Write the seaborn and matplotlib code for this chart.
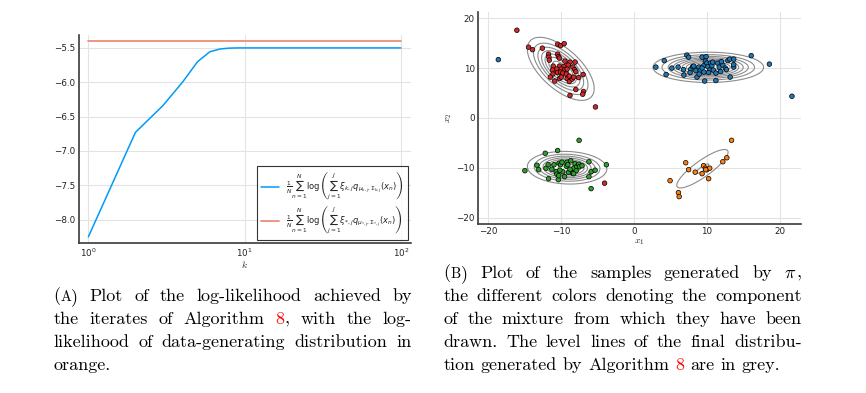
import numpy as np
import pandas as pd
import matplotlib
matplotlib.use("Agg")
import matplotlib.pyplot as plt
import seaborn as sns

# ---------------- data: left panel ----------------
iterations = [1, 2, 3, 4, 5, 6, 7, 8, 9, 10, 12, 15, 20, 30, 50, 100]
loglik_iterates = [-8.25, -6.73, -6.34, -6.00, -5.70, -5.555, -5.515, -5.503,
                   -5.50, -5.50, -5.50, -5.50, -5.50, -5.50, -5.50, -5.50]
iterations_true = [1, 100]
loglik_true = [-5.395, -5.395]
y_ticks_left = [-8.0, -7.5, -7.0, -6.5, -6.0, -5.5]
x_ticks_left = [1, 10, 100]
x_ticklabels_left = ["$10^0$", "$10^1$", "$10^2$"]

# ---------------- data: right panel (samples) ----------------
red_x = [-16.1, -14.5, -13.95, -12.6, -10.5, -10.1, -9.6, -11.75, -11.7, -11.65, -10.5, -10.4,
         -10.25, -9.5, -8.8, -8.1, -11.1, -10.25, -9.65, -9.05, -8.4, -11.2, -10.6, -10.0, -9.5,
         -9.2, -11.15, -10.5, -10.1, -9.8, -9.3, -8.15, -8.0, -11.5, -10.9, -10.25, -10.0, -9.2,
         -8.9, -8.5, -8.3, -7.6, -7.0, -8.9, -8.0, -6.95, -7.05, -8.8, -5.3, -4.05]
red_y = [17.6, 14.2, 13.7, 14.0, 14.8, 14.5, 14.9, 12.8, 12.2, 11.6, 12.8, 12.3,
         12.0, 11.4, 11.2, 11.2, 10.4, 10.4, 10.3, 10.6, 10.2, 9.6, 9.8, 9.8, 9.7,
         9.8, 8.8, 9.1, 9.2, 9.0, 8.8, 9.7, 9.3, 8.2, 7.4, 7.9, 8.2, 7.9,
         7.3, 7.8, 8.2, 8.1, 8.7, 8.4, 5.7, 5.3, 4.75, 4.5, 2.2, -13.1]
blue_x = [-18.65, 21.7, 18.6, 16.1, 3.0, 4.15, 4.4, 5.2, 6.05, 6.8, 6.85, 7.25, 7.5, 7.8, 7.7,
          8.05, 8.65, 8.5, 8.9, 9.1, 9.35, 9.6, 9.9, 9.8, 10.0, 9.35, 9.6, 9.7, 10.15, 10.4,
          10.5, 10.7, 10.9, 11.25, 11.25, 11.5, 11.7, 11.9, 12.2, 12.55, 12.9, 13.15, 13.7,
          13.7, 13.2, 12.7, 10.8, 10.25, 8.95, 8.2, 12.0, 13.7]
blue_y = [11.7, 4.35, 10.8, 12.5, 10.2, 11.5, 8.7, 10.0, 10.2, 9.7, 8.6, 12.6, 12.2, 9.8, 9.1,
          10.3, 8.2, 9.5, 10.2, 9.5, 12.2, 10.5, 12.3, 11.4, 11.0, 10.0, 9.2, 7.4, 10.3, 9.6,
          11.0, 10.5, 9.6, 9.0, 7.5, 11.0, 10.2, 9.3, 10.6, 10.0, 11.5, 11.8, 11.8,
          10.2, 8.2, 9.7, 11.2, 9.1, 8.8, 10.4, 11.3, 10.7]
green_x = [-15.0, -13.35, -13.1, -12.2, -12.1, -11.8, -11.75, -11.0, -10.5, -10.7, -10.6, -10.4,
           -10.35, -10.3, -10.1, -9.9, -9.8, -9.55, -9.3, -9.2, -9.1, -9.0, -8.7, -8.45, -8.3,
           -8.1, -7.85, -7.95, -7.6, -7.5, -7.55, -7.15, -8.3, -6.2, -6.2, -5.9, -5.9, -5.35,
           -3.8, -11.3, -10.2, -8.8]
green_y = [-10.6, -9.5, -10.4, -7.1, -10.1, -9.4, -12.2, -9.4, -6.55, -10.8, -11.3, -12.4,
           -11.6, -9.1, -9.4, -8.9, -10.8, -11.8, -9.7, -8.9, -9.4, -10.9, -8.6, -11.1, -10.1,
           -9.2, -9.8, -10.6, -9.3, -9.8, -4.5, -9.6, -11.2, -8.8, -11.8, -10.8, -14.2, -10.5,
           -9.4, -10.3, -10.5, -10.3]
orange_x = [4.95, 6.1, 6.2, 7.1, 7.5, 8.4, 9.35, 9.55, 9.8, 10.0, 10.4, 10.25, 12.2, 12.75, 13.4, 9.85]
orange_y = [-12.6, -15.0, -15.8, -9.0, -10.4, -10.9, -11.2, -9.6, -10.1, -10.4, -10.1, -12.2,
            -8.8, -8.0, -4.5, -10.4]

# ---------------- data: right panel (final mixture, grey level lines) ----------------
mix_weights = [0.36, 0.31, 0.26, 0.0705]
mix_means = [[10.2, 10.15], [-10.07, 9.85], [-9.2, -10.0], [9.4, -10.2]]
mix_covs = [[[12.5, 0.0], [0.0, 2.0]],
            [[5.1, -4.4], [-4.4, 9.7]],
            [[6.8, -0.3], [-0.3, 2.45]],
            [[8.4, 7.9], [7.9, 10.07]]]
level_step = 0.001138
n_levels = 11
ticks_right = [-20, -10, 0, 10, 20]

# ---------------- figure ----------------
W, H = 866, 393
sns.set_style("white")
plt.rcParams["font.family"] = ["DejaVu Sans"]
plt.rcParams["axes.unicode_minus"] = True
fig = plt.figure(figsize=(W / 100, H / 100), dpi=100)

def px_axes(l, t, r, b):
    return [l / W, 1 - b / H, (r - l) / W, (b - t) / H]

spine_col = "#3a3a3a"
grid_col = "#e3e3e3"
tick_fs = 6.3

# ----- left panel -----
ax1 = fig.add_axes(px_axes(79, 34.8, 410.7, 242.7))
ax1.set_xscale("log")
sns.lineplot(x=iterations, y=loglik_iterates, ax=ax1, color="#009AFA", lw=1.1,
             label=r"$\frac{1}{N}\sum_{n=1}^{N}\log\left(\sum_{j=1}^{J}\xi_{k,j}q_{\mu_{k,j},\Sigma_{k,j}}(x_n)\right)$")
sns.lineplot(x=iterations_true, y=loglik_true, ax=ax1, color="#EC8E76", lw=1.3,
             label=r"$\frac{1}{N}\sum_{n=1}^{N}\log\left(\sum_{j=1}^{J}\xi_{*,j}q_{\mu_{*,j},\Sigma_{*,j}}(x_n)\right)$")
ax1.set_xlim(10 ** -0.06, 10 ** 2.063)
ax1.set_ylim(-8.336, -5.309)
ax1.set_yticks(y_ticks_left)
ax1.set_yticklabels([f"{v:.1f}".replace("-", "\u2212") for v in y_ticks_left])
ax1.set_xticks(x_ticks_left)
ax1.set_xticklabels(x_ticklabels_left)
ax1.xaxis.set_minor_locator(matplotlib.ticker.NullLocator())
ax1.set_xlabel("$k$", fontsize=7, labelpad=0.5, math_fontfamily="cm")
ax1.set_ylabel("")
leg = ax1.legend(loc="lower right", fontsize=6.0, frameon=True, fancybox=False,
                 edgecolor="black", borderaxespad=0.35, handlelength=2.2,
                 labelspacing=0.2, borderpad=0.45, handletextpad=0.8)
leg.get_frame().set_linewidth(0.8)

# ----- right panel -----
ax2 = fig.add_axes(px_axes(478.3, 12.3, 800.7, 224))
gx = np.linspace(-21.4, 22.9, 400)
gy = np.linspace(-21.3, 21.2, 400)
GX, GY = np.meshgrid(gx, gy)
Z = np.zeros_like(GX)
for w, m, c in zip(mix_weights, mix_means, mix_covs):
    c = np.array(c)
    inv = np.linalg.inv(c)
    dx = GX - m[0]
    dy = GY - m[1]
    q = inv[0, 0] * dx * dx + 2 * inv[0, 1] * dx * dy + inv[1, 1] * dy * dy
    Z += w * np.exp(-0.5 * q) / (2 * np.pi * np.sqrt(np.linalg.det(c)))
levels = level_step * np.arange(1, n_levels + 1)
ax2.contour(GX, GY, Z, levels=levels, colors="#8c8c8c", linewidths=0.8, zorder=2)

df = pd.DataFrame({
    "x1": red_x + blue_x + green_x + orange_x,
    "x2": red_y + blue_y + green_y + orange_y,
    "component": (["red"] * len(red_x) + ["blue"] * len(blue_x)
                  + ["green"] * len(green_x) + ["orange"] * len(orange_x)),
})
palette = {"red": "#d62728", "blue": "#1f77b4", "green": "#2ca02c", "orange": "#ff7f0e"}
sns.scatterplot(data=df, x="x1", y="x2", hue="component", palette=palette, s=11,
                edgecolor="black", linewidth=0.5, legend=False, ax=ax2, zorder=3)
ax2.set_xlim(-21.4, 22.9)
ax2.set_ylim(-21.3, 21.2)
ax2.set_xticks(ticks_right)
ax2.set_yticks(ticks_right)
ax2.set_xticklabels([str(v).replace("-", "\u2212") for v in ticks_right])
ax2.set_yticklabels([str(v).replace("-", "\u2212") for v in ticks_right])
ax2.set_xlabel("$x_1$", fontsize=7, labelpad=0.5, math_fontfamily="cm")
ax2.set_ylabel("$x_2$", fontsize=7, labelpad=1.5, math_fontfamily="cm")

for ax in (ax1, ax2):
    ax.grid(True, color=grid_col, lw=0.8, zorder=0)
    ax.set_axisbelow(True)
    for s in ("top", "right"):
        ax.spines[s].set_visible(False)
    for s in ("left", "bottom"):
        ax.spines[s].set_color(spine_col)
        ax.spines[s].set_linewidth(1.2)
    ax.tick_params(axis="both", length=0, pad=2.5, labelsize=tick_fs, colors="#222222")

# ---------------- captions ----------------
CAP_FS = 13.0
RED8 = "#ff0000"
renderer = fig.canvas.get_renderer()

def seg_text(s, color="black", scale=1.0, math=False):
    kw = dict(fontsize=CAP_FS * scale, color=color, va="baseline", ha="left")
    if math:
        t = fig.text(0, 0, s, math_fontfamily="cm", **kw)
    else:
        t = fig.text(0, 0, s, family=["cmr10", "DejaVu Serif"], **kw)
    return t

def word(*segs):
    return list(segs)

def plain(s):
    return [(s, "black", 1.0, False)]

def draw_caption(lines, x0, x1, baselines):
    space_px = 0.333 * CAP_FS * 100 / 72
    for li, (words, yb) in enumerate(zip(lines, baselines)):
        objs = []
        widths = []
        for wd in words:
            parts = []
            wsum = 0.0
            for (s, col, sc, m) in wd:
                t = seg_text(s, col, sc, m)
                bw = t.get_window_extent(renderer).width
                parts.append((t, bw))
                wsum += bw
            objs.append(parts)
            widths.append(wsum)
        last = li == len(lines) - 1
        if not last and len(words) > 1:
            gap = (x1 - x0 - sum(widths)) / (len(words) - 1)
        else:
            gap = space_px
        x = x0
        for parts, wsum in zip(objs, widths):
            xx = x
            for t, bw in parts:
                t.set_position((xx / W, 1 - yb / H))
                xx += bw
            x += wsum + gap

def line_of(text):
    return [plain(w) for w in text.split(" ")]

# Caption (A)
capA = [
    [word(("(", "black", 1.0, False), ("A", "black", 0.8, False), (")", "black", 1.0, False))]
    + line_of("Plot of the log-likelihood achieved by"),
    line_of("the iterates of Algorithm")
    + [word(("8", RED8, 1.0, False), (",", "black", 1.0, False))]
    + line_of("with the log-"),
    line_of("likelihood of data-generating distribution in"),
    line_of("orange."),
]
draw_caption(capA, 53.3, 411.7, [301, 324, 347, 370])

# Caption (B)
capB = [
    [word(("(", "black", 1.0, False), ("B", "black", 0.8, False), (")", "black", 1.0, False))]
    + line_of("Plot of the samples generated by")
    + [word((r"$\pi$", "black", 1.0, True), (",", "black", 1.0, False))],
    line_of("the different colors denoting the component"),
    line_of("of the mixture from which they have been"),
    line_of("drawn. The level lines of the final distribu-"),
    line_of("tion generated by Algorithm") + [word(("8", RED8, 1.0, False))]
    + line_of("are in grey."),
]
draw_caption(capB, 443.3, 801.7, [278, 301, 324, 347, 370])

fig.savefig("out.png", dpi=100)
